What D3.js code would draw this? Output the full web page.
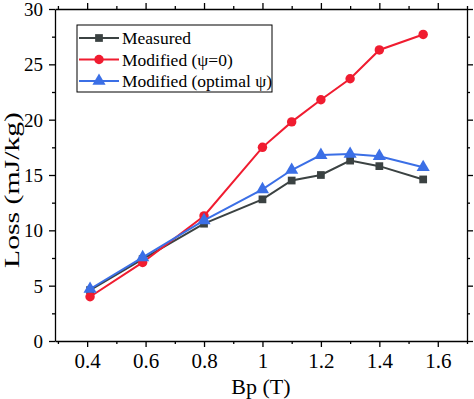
<!DOCTYPE html>
<meta charset="utf-8">
<style>
body { margin: 0; background: #fff; }
text { font-family: "Liberation Serif", "Times New Roman", serif; fill: #000; }
.axis path, .axis line { stroke: #000; stroke-width: 1.3px; }
.line { fill: none; stroke-width: 2px; }
</style>
<svg width="474" height="399"></svg>
<script src="https://cdn.jsdelivr.net/npm/d3@7"></script>
<script>

// data
var bp = [0.41, 0.59, 0.8, 1.0, 1.1, 1.2, 1.3, 1.4, 1.55];
var measured = [4.6, 7.4, 10.6, 12.8, 14.5, 15.0, 16.3, 15.8, 14.6];
var modifiedZero = [4.0, 7.1, 11.3, 17.5, 19.8, 21.8, 23.7, 26.3, 27.7];
var modifiedOpt = [4.7, 7.55, 10.9, 13.7, 15.45, 16.8, 16.9, 16.7, 15.7];
var seriesNames = ["Measured", "Modified (\u03c8=0)", "Modified (optimal \u03c8)"];
var xTicks = [0.4, 0.6, 0.8, 1.0, 1.2, 1.4, 1.6];
var yTicks = [0, 5, 10, 15, 20, 25, 30];

var colors = ["#3b4242", "#f01c30", "#3b6fe6"];
var symbols = [d3.symbolSquare, d3.symbolCircle, d3.symbolTriangle];
var symSize = [60, 70, 75];

var svg = d3.select("svg"),
    margin = {top: 9, right: 7, bottom: 58, left: 55},
    width = svg.attr("width") - margin.left - margin.right,
    height = svg.attr("height") - margin.top - margin.bottom,
    g = svg.append("g").attr("transform", "translate(" + margin.left + "," + margin.top + ")");

var x = d3.scaleLinear().domain([0.29, 1.7]).range([0, width]),
    y = d3.scaleLinear().domain([0, 30]).range([height, 0]);

var xMinor = d3.range(0.3, 1.71, 0.2).map(function(d) { return +d.toFixed(1); });
var yMinor = d3.range(2.5, 30, 5);

function fmtX(d) { return d === 1 ? "1" : d3.format(".1f")(d); }

// minor ticks
function minor(sel, axis) {
  sel.call(axis).call(function(s) { s.select(".domain").remove(); s.selectAll("text").remove(); });
}
g.append("g").attr("class", "axis").attr("transform", "translate(0," + height + ")")
  .call(minor, d3.axisBottom(x).tickValues(xMinor).tickSize(3));
g.append("g").attr("class", "axis")
  .call(minor, d3.axisTop(x).tickValues(xMinor).tickSize(3));
g.append("g").attr("class", "axis")
  .call(minor, d3.axisLeft(y).tickValues(yMinor).tickSize(3));
g.append("g").attr("class", "axis").attr("transform", "translate(" + width + ",0)")
  .call(minor, d3.axisRight(y).tickValues(yMinor).tickSize(3));

// major axes
g.append("g").attr("class", "axis").attr("transform", "translate(0," + height + ")")
  .call(d3.axisBottom(x).tickValues(xTicks).tickFormat(fmtX).tickSize(6).tickSizeOuter(0).tickPadding(6))
  .selectAll("text").style("font-size", "21px");
g.append("g").attr("class", "axis")
  .call(d3.axisTop(x).tickValues(xTicks).tickFormat("").tickSize(6).tickSizeOuter(0));
g.append("g").attr("class", "axis")
  .call(d3.axisLeft(y).tickValues(yTicks).tickSize(6).tickSizeOuter(0).tickPadding(6))
  .selectAll("text").style("font-size", "19px").attr("dy", "0.34em");
g.append("g").attr("class", "axis").attr("transform", "translate(" + width + ",0)")
  .call(d3.axisRight(y).tickValues(yTicks).tickFormat("").tickSize(6).tickSizeOuter(0));

g.append("text")
  .attr("x", width / 2).attr("y", height + 53)
  .attr("text-anchor", "middle").style("font-size", "22px")
  .text("Bp (T)");

g.append("text")
  .attr("transform", "rotate(-90)")
  .attr("x", -(height / 2 + 15)).attr("y", -36)
  .attr("text-anchor", "middle").style("font-size", "21px")
  .attr("textLength", 156).attr("lengthAdjust", "spacingAndGlyphs")
  .text("Loss (mJ/kg)");

var series = [measured, modifiedZero, modifiedOpt].map(function(vals, i) {
  return {name: seriesNames[i], values: vals.map(function(v, j) { return {b: bp[j], loss: v}; })};
});

var line = d3.line()
    .x(function(d) { return x(d.b); })
    .y(function(d) { return y(d.loss); });

var plot = g.selectAll(".series")
  .data(series)
  .enter().append("g").attr("class", "series");

plot.append("path")
  .attr("class", "line")
  .attr("d", function(d) { return line(d.values); })
  .style("stroke", function(d, i) { return colors[i]; });

plot.each(function(d, i) {
  d3.select(this).selectAll("path.mark")
    .data(d.values)
    .enter().append("path")
    .attr("class", "mark")
    .attr("transform", function(p) { return "translate(" + x(p.b) + "," + y(p.loss) + ")"; })
    .attr("d", d3.symbol().type(symbols[i]).size(symSize[i]))
    .style("fill", colors[i]);
});

// legend
var legend = g.append("g").attr("transform", "translate(22,16)");
legend.append("rect")
  .attr("width", 195).attr("height", 67)
  .style("fill", "#fff").style("stroke", "#000").style("stroke-width", 1);

var item = legend.selectAll(".item")
  .data(seriesNames)
  .enter().append("g")
  .attr("transform", function(d, i) { return "translate(0," + (13 + i * 21.5) + ")"; });

item.append("line")
  .attr("x1", 2).attr("x2", 42)
  .style("stroke", function(d, i) { return colors[i]; })
  .style("stroke-width", 2);
item.append("path")
  .attr("transform", "translate(22,0)")
  .attr("d", function(d, i) { return d3.symbol().type(symbols[i]).size(symSize[i])(); })
  .style("fill", function(d, i) { return colors[i]; });
item.append("text")
  .attr("x", 45).attr("dy", "0.35em")
  .style("font-size", "17.5px")
  .text(function(d) { return d; });

</script>
